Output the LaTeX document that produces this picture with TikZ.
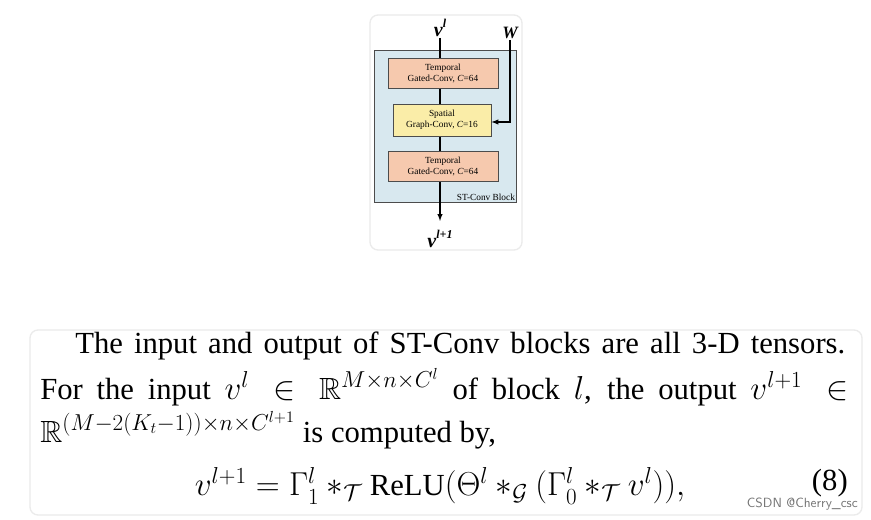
\documentclass[tikz,border=0pt]{standalone}
\usepackage{amssymb}
\usepackage{fontspec}
\setmainfont{Liberation Serif}
\definecolor{blkblue}{HTML}{D8E8EF}
\definecolor{tgor}{HTML}{F6C9AE}
\definecolor{sgy}{HTML}{FAEDA8}
\begin{document}
\begin{tikzpicture}[x=0.75pt,y=-0.75pt,
  card/.style={draw=black!8,fill=white,rounded corners=6pt,line width=1pt},
  blk/.style={draw=black!70,line width=0.6pt,minimum height=22pt,align=center,font=\fontsize{7}{8}\selectfont,inner sep=0pt},
  tg/.style={blk,fill=tgor,minimum width=82.5pt},
  sg/.style={blk,fill=sgy,minimum width=73.5pt,minimum height=24pt},
  big/.style={font=\fontsize{23}{26}\selectfont,inner sep=0pt},
  arr/.style={-latex,line width=0.8pt}]
\useasboundingbox (0,0) rectangle (871,520);
\fill[white] (0,0) rectangle (871,520);
\draw[card] (370,15) rectangle (522,250);
\draw[card] (30,330) rectangle (862,515);
% block
\node[draw=black!70,fill=blkblue,minimum width=107pt,minimum height=114pt,line width=0.6pt,inner sep=0pt] (st) at (445.5,126) {};
\node[anchor=south east,font=\fontsize{7}{8}\selectfont,inner sep=1.5pt] (stl) at (st.south east) {ST-Conv Block};
\node[font=\fontsize{15}{16}\selectfont\itshape\bfseries,inner sep=1pt] (vin) at (440,28) {v\raisebox{0.9ex}{\fontsize{9}{9}\selectfont l}};
\node[font=\fontsize{13}{14}\selectfont\itshape\bfseries,inner sep=1pt] (w) at (510,33) {W};
\node[font=\fontsize{15}{16}\selectfont\itshape\bfseries,inner sep=1pt] (vout) at (440,239) {v\raisebox{0.9ex}{\fontsize{9}{9}\selectfont l+1}};
\coordinate (top) at (440,38);
\coordinate (bot) at (440,221);
\draw[line width=0.8pt] (top) -- (440,104);
\draw[line width=0.8pt] (440,136) -- (440,152);
\draw[arr] (440,181) -- (bot);
\node[tg] (t1) at (443,73.5) {Temporal\\Gated-Conv, \textit{C}=64};
\node[sg] (s) at (442,120) {Spatial\\Graph-Conv, \textit{C}=16};
\node[tg] (t2) at (443,166.5) {Temporal\\Gated-Conv, \textit{C}=64};
\draw[arr] (w.south) -- (510,122) -- (s.east |- 0,122);
% text
\node[big,anchor=west] (l1) at (75,346) {\makebox[577.5pt][s]{The input and output of ST-Conv blocks are all 3-D tensors.}};
\node[big,anchor=west] (l2) at (40,387) {\makebox[606pt][s]{For the input $v^l\in\mathbb{R}^{M\times n\times C^l}$ of block $l$, the output $v^{l+1}\in$}};
\node[big,anchor=west] (l3) at (40,430) {$\mathbb{R}^{(M-2(K_t-1))\times n\times C^{l+1}}$ is computed by,};
\node[big] (eq) at (440,486) {$v^{l+1}=\Gamma_1^l\ast_{\mathcal{T}}\mathrm{ReLU}(\Theta^l\ast_{\mathcal{G}}(\Gamma_0^l\ast_{\mathcal{T}}v^l)),$};
\node[big,anchor=east] (num) at (848,483) {(8)};
\node[font=\fontsize{10}{12}\selectfont\sffamily,text=black!55,anchor=east,inner sep=0pt] (wm) at (858,504) {CSDN @Cherry\_csc};
\end{tikzpicture}
\end{document}
